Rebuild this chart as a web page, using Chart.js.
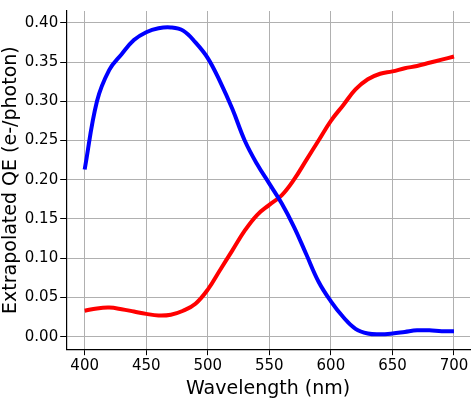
<!DOCTYPE html><html><head><script src="https://cdn.jsdelivr.net/npm/chart.js@4"></script>
<style>body{margin:0;background:#fff}#w{width:474px;height:402px}</style></head><body><div id="w"><canvas id="c"></canvas></div>
<script>
const wavelengths=[400,410,420,430,440,450,460,470,480,490,500,510,520,530,540,550,560,570,580,590,600,610,620,630,640,650,660,670,680,690,700];
const blueQE=[0.213,0.30,0.34,0.36,0.378,0.388,0.393,0.394,0.39,0.375,0.355,0.325,0.29,0.25,0.22,0.195,0.17,0.14,0.105,0.07,0.045,0.025,0.01,0.004,0.003,0.004,0.006,0.008,0.008,0.007,0.007];
const redQE=[0.033,0.036,0.037,0.035,0.032,0.029,0.027,0.028,0.033,0.042,0.06,0.085,0.11,0.135,0.155,0.168,0.18,0.2,0.225,0.25,0.275,0.295,0.315,0.328,0.335,0.338,0.342,0.345,0.349,0.353,0.357];
const xTicks=[400,450,500,550,600,650,700];
const yTicks=[0,0.05,0.1,0.15,0.2,0.25,0.3,0.35,0.4];
const pts=a=>a.map((v,i)=>({x:wavelengths[i],y:v}));
new Chart(document.getElementById('c'),{type:'line',data:{datasets:[
{data:pts(blueQE),borderColor:'#0000ff',borderWidth:4,pointRadius:0,tension:0.4,fill:false},
{data:pts(redQE),borderColor:'#ff0000',borderWidth:4,pointRadius:0,tension:0.4,fill:false}]},
options:{responsive:true,maintainAspectRatio:false,animation:false,layout:{padding:{top:0,right:4,bottom:2}},
plugins:{legend:{display:false},tooltip:{enabled:false}},
scales:{x:{type:'linear',min:385,max:713,afterBuildTicks:s=>{s.ticks=xTicks.map(v=>({value:v}))},
ticks:{color:'#000',font:{family:'DejaVu Sans',size:15},maxRotation:0,padding:2},
grid:{color:'#b0b0b0',tickColor:'#000',tickLength:6},border:{color:'#000',width:1.2},
title:{display:true,text:'Wavelength (nm)',color:'#000',font:{family:'DejaVu Sans',size:19},padding:0}},
y:{min:-0.016,max:0.415,afterBuildTicks:s=>{s.ticks=yTicks.map(v=>({value:v}))},
ticks:{color:'#000',font:{family:'DejaVu Sans',size:15},callback:v=>v.toFixed(2),padding:2},
grid:{color:'#b0b0b0',tickColor:'#000',tickLength:6},border:{color:'#000',width:1.2},
title:{display:true,text:'Extrapolated QE (e-/photon)',color:'#000',font:{family:'DejaVu Sans',size:19},padding:0}}}}});
</script></body></html>
